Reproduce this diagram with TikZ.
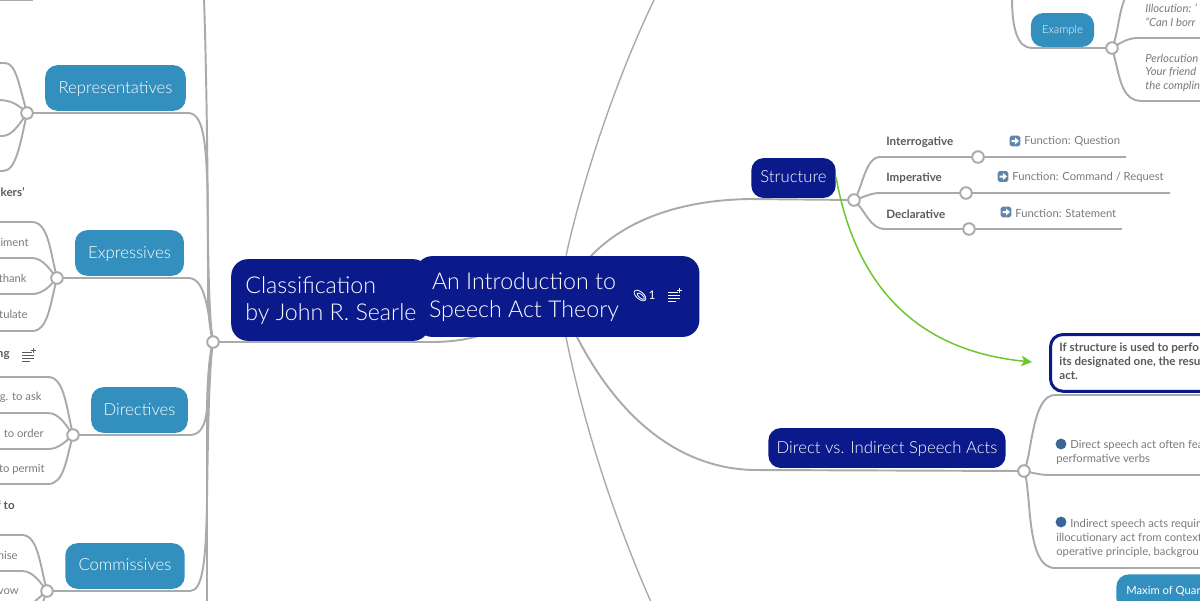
\documentclass[tikz,border=0pt]{standalone}
\usepackage{fontspec}
\setmainfont{Lato}
\newfontfamily\lightfont{Lato Light}
\usetikzlibrary{arrows.meta,backgrounds}
\definecolor{navy}{HTML}{0B1A8B}
\definecolor{topicblue}{HTML}{338FBD}
\definecolor{branchgray}{HTML}{A9ABAA}
\definecolor{bodygray}{HTML}{7A7A7A}
\definecolor{boldgray}{HTML}{5A5A5A}
\definecolor{bulletblue}{HTML}{3A6595}
\definecolor{fngray}{HTML}{5F87AE}
\definecolor{linkgreen}{HTML}{6CC62E}
\tikzset{
	branch/.style={draw=branchgray,line width=1.1pt},
	junct/.style={circle,draw=branchgray,fill=white,line width=1.1pt,inner sep=0pt,minimum size=6.6pt},
	navybox/.style={rectangle,rounded corners=7pt,fill=navy,text=white,inner sep=0pt,text height=5.7pt,text depth=0pt},
	bluebox/.style={rectangle,rounded corners=7pt,fill=topicblue,text=white,inner sep=0pt,text height=5.7pt,text depth=0pt},
	rootbox/.style={rectangle,rounded corners=9.5pt,fill=navy,inner sep=0pt},
	toptext/.style={text=white,font=\lightfont\fontsize{13.2}{15.6}\selectfont,inner sep=0pt},
	boxtext/.style={font=\lightfont\fontsize{9.5}{11}\selectfont},
	body/.style={text=bodygray,font=\fontsize{6.4}{8}\selectfont,inner sep=0pt},
	bodyl/.style={body,anchor=west},
	bodyr/.style={body,anchor=east},
	slant/.style={bodyl,font=\fontsize{6.4}{8}\selectfont\itshape},
	strong/.style={text=boldgray,font=\fontsize{6.6}{8}\selectfont\bfseries,inner sep=0pt},
	strongl/.style={strong,anchor=west},
	strongr/.style={strong,anchor=east},
	fnbox/.style={rectangle,rounded corners=1pt,fill=fngray,inner sep=0pt,minimum size=6pt},
	bullet/.style={circle,fill=bulletblue,inner sep=0pt,minimum size=6.2pt}
}
\newcommand{\noteicon}[3]{%
	\draw[#3,line width=.55pt] (#1-7,#2-3) -- (#1+3,#2-3) (#1-7,#2) -- (#1+5,#2) (#1-7,#2+3) -- (#1+5,#2+3) (#1-7,#2+6) -- (#1+1,#2+6);
	\draw[#3,line width=.55pt] (#1+4,#2-7) -- (#1+4,#2-2) (#1+1.5,#2-4.5) -- (#1+6.5,#2-4.5);
}
\newcommand{\fnarrow}[2]{%
	\fill[white] (#1-3.5,#2-1) -- (#1,#2-1) -- (#1,#2-3.5) -- (#1+4,#2) -- (#1,#2+3.5) -- (#1,#2+1) -- (#1-3.5,#2+1) -- cycle;
}
\begin{document}
\begin{tikzpicture}[x=0.02cm,y=-0.02cm]
	\useasboundingbox (0,0) rectangle (1200,600);

	\node[rootbox,minimum width=113pt,minimum height=46.5pt] (classif) at (330.5,300) {};
	\node[rootbox,minimum width=161.5pt,minimum height=46pt] (root) at (557.5,296.5) {};
	\node[toptext,align=left,anchor=west] (classift) at (245,300.5) {Classification\\by John R. Searle};
	\node[toptext,align=center] (roott) at (524,297) {An Introduction to\\Speech Act Theory};
	\draw[white,line width=.45pt,rotate around={-40:(640,295.5)}] (640,295.5) ellipse (7 and 3.6) (641,295.5) ellipse (4.5 and 1.8);
	\node[text=white,font=\fontsize{6.8}{8}\selectfont,inner sep=0pt] (attach) at (652,295.5) {1};
	\noteicon{675}{295}{white}

	\node[navybox,boxtext,text height=4.6pt,minimum width=48pt,minimum height=22.7pt] (struct) at (793.5,178) {Structure};
	\node[navybox,boxtext,minimum width=135pt,minimum height=22.7pt] (direct) at (887,448) {Direct vs. Indirect Speech Acts};
	\node[bluebox,font=\lightfont\fontsize{6.4}{8}\selectfont,text height=4.3pt,minimum width=36pt,minimum height=19.3pt] (example) at (1062.5,30) {Example};
	\node[bluebox,anchor=north west,minimum width=60pt,minimum height=20.5pt] (quant) at (1116,574) {};
	\node[bodyl,text=white] (quantt) at (1126,591) {Maxim of Quar};

	\node[bluebox,boxtext,minimum width=80pt,minimum height=26pt] (repr) at (115.5,88) {Representatives};
	\node[bluebox,boxtext,minimum width=62pt,minimum height=26pt] (expr) at (129.5,253) {Expressives};
	\node[bluebox,boxtext,minimum width=55pt,minimum height=26pt] (dirv) at (139.5,410) {Directives};
	\node[bluebox,boxtext,text height=5.2pt,minimum width=68pt,minimum height=26pt] (comm) at (125,566) {Commissives};

	\node[rectangle,rounded corners=7pt,draw=navy,line width=1.7pt,fill=white,anchor=north west,outer sep=0pt,minimum width=95pt,minimum height=32.3pt] (callout) at (1050.5,334.5) {};
	\node[strongl] (c1) at (1059,348) {If structure is used to perfo};
	\node[strongl] (c2) at (1059,362) {its designated one, the resu};
	\node[strongl] (c3) at (1059,376) {act.};

	\node[junct] (jclass) at (213,342) {};
	\node[junct] (jrepr) at (27,113) {};
	\node[junct] (jexpr) at (57,278) {};
	\node[junct] (jdirv) at (73,435) {};
	\node[junct] (jcomm) at (47,591) {};
	\node[junct] (jstruct) at (854,200) {};
	\node[junct] (jexample) at (1112,48) {};
	\node[junct] (jdirect) at (1024,471) {};
	\node[junct] (jq) at (978,157) {};
	\node[junct] (ji) at (966,193) {};
	\node[junct] (js) at (969,229) {};

	\coordinate (trunktop) at (204,-2);
	\coordinate (trunkbot) at (207,602);
	\coordinate (rootup) at (655,-2);
	\coordinate (rootdown) at (651,602);
	\coordinate (exup) at (1012,-2);
	\coordinate (exstem) at (1125,-2);
	\coordinate (exmid) at (1202,38);
	\coordinate (exlow) at (1202,101);
	\coordinate (qend) at (1126,157);
	\coordinate (iend) at (1170,193);
	\coordinate (send) at (1122,229);
	\coordinate (d1) at (1202,395);
	\coordinate (d2) at (1202,475);
	\coordinate (d3) at (1202,568);
	\coordinate (linkend) at (1032,362);

	\begin{pgfonlayer}{background}
		\draw[branch] (jclass.center) -- (430,342) .. controls (450,342) and (465,340) .. (482,335);
		\draw[branch] (trunktop) .. controls (207,90) and (208,200) .. (208,290) .. controls (208,315) and (210,330) .. (jclass.center);
		\draw[branch] (trunkbot) -- (207,420) .. controls (207,385) and (209,355) .. (jclass.center);
		\draw[branch] (jrepr.center) -- (188,113) .. controls (203,113) and (206,140) .. (207.5,190) .. controls (208,260) and (209,320) .. (jclass.center);
		\draw[branch] (jexpr.center) -- (188,278) .. controls (203,278) and (207,300) .. (jclass.center);
		\draw[branch] (jdirv.center) -- (190,435) .. controls (203,435) and (207,420) .. (207.5,400) .. controls (208,380) and (210,355) .. (jclass.center);
		\draw[branch] (jcomm.center) -- (190,591) .. controls (203,591) and (206,560) .. (207,500) .. controls (208,430) and (209,370) .. (jclass.center);

		\draw[branch] (-2,63) -- (5,63) .. controls (16,63) and (19,85) .. (jrepr.center);
		\draw[branch] (-2,100) .. controls (10,100) and (18,104) .. (jrepr.center);
		\draw[branch] (-2,136) -- (2,136) .. controls (12,136) and (19,125) .. (jrepr.center);
		\draw[branch] (-2,171) -- (3,171) .. controls (16,171) and (20,145) .. (jrepr.center);
		\draw[branch] (-2,222) -- (32,222) .. controls (48,222) and (50,250) .. (jexpr.center);
		\draw[branch] (-2,258) -- (32,258) .. controls (43,258) and (50,270) .. (jexpr.center);
		\draw[branch] (-2,294) -- (32,294) .. controls (43,294) and (50,286) .. (jexpr.center);
		\draw[branch] (-2,331) -- (32,331) .. controls (48,331) and (50,305) .. (jexpr.center);
		\draw[branch] (-2,377) -- (48,377) .. controls (64,377) and (66,405) .. (jdirv.center);
		\draw[branch] (-2,413) -- (48,413) .. controls (59,413) and (66,425) .. (jdirv.center);
		\draw[branch] (-2,449) -- (48,449) .. controls (59,449) and (66,441) .. (jdirv.center);
		\draw[branch] (-2,484) -- (48,484) .. controls (64,484) and (66,460) .. (jdirv.center);
		\draw[branch] (-2,535) -- (22,535) .. controls (38,535) and (40,565) .. (jcomm.center);
		\draw[branch] (-2,571) -- (22,571) .. controls (33,571) and (40,582) .. (jcomm.center);
		\draw[branch] (jcomm.center) -- (34,602);
		\draw[branch] (jcomm.center) -- (43,602);
		\draw[branch,line width=.7pt] (-2,.5) -- (33,.5);

		\draw[branch,line width=.8pt] (root.north) ++(8.5,0) coordinate (ru) (ru) .. controls (585,170) and (620,70) .. (rootup);
		\draw[branch] (590,257) .. controls (625,220) and (680,200) .. (750,199) -- (jstruct.center);
		\draw[branch,line width=.8pt] (566,337) .. controls (585,430) and (615,520) .. (rootdown);
		\draw[branch] (577,337) .. controls (625,430) and (690,470) .. (757,470) -- (jdirect.center);

		\draw[branch] (jstruct.center) .. controls (862,190) and (865,157) .. (880,157) -- (qend);
		\draw[branch] (jstruct.center) .. controls (865,197) and (870,193) .. (880,193) -- (iend);
		\draw[branch] (jstruct.center) .. controls (865,210) and (870,229) .. (885,229) -- (send);

		\draw[branch] (exup) .. controls (1012,30) and (1018,48) .. (1032,48) -- (jexample.center);
		\draw[branch] (jexample.center) .. controls (1118,35) and (1118,15) .. (exstem);
		\draw[branch] (jexample.center) .. controls (1122,42) and (1128,38) .. (1138,38) -- (exmid);
		\draw[branch] (jexample.center) .. controls (1120,75) and (1120,101) .. (1142,101) -- (exlow);

		\draw[branch] (jdirect.center) .. controls (1032,455) and (1032,395) .. (1055,395) -- (d1);
		\draw[branch] (jdirect.center) .. controls (1034,473) and (1040,475) .. (1050,475) -- (d2);
		\draw[branch] (jdirect.center) .. controls (1032,490) and (1025,568) .. (1055,568) -- (d3);
	\end{pgfonlayer}

	\draw[linkgreen,line width=.85pt,-{Stealth[length=6pt,width=6pt,inset=1.5pt]}] (struct.east) ++(0,-1) coordinate (sl) (sl) .. controls (858,300) and (930,352) .. (linkend);

	\node[strongl] (interrog) at (886,142) {Interrogative};
	\node[strongl] (imper) at (886,178) {Imperative};
	\node[strongl] (declar) at (886,214) {Declarative};
	\node[fnbox] (fn1) at (1015,141) {};
	\fnarrow{1015}{141}
	\node[bodyl] (fn1t) at (1024,141.5) {Function: Question};
	\node[fnbox] (fn2) at (1003,176.5) {};
	\fnarrow{1003}{176.5}
	\node[bodyl] (fn2t) at (1012,177.5) {Function: Command / Request};
	\node[fnbox] (fn3) at (1006,212) {};
	\fnarrow{1006}{212}
	\node[bodyl] (fn3t) at (1015,213.5) {Function: Statement};

	\node[slant] (il1) at (1145,8.5) {Illocution: ‘};
	\node[slant] (il2) at (1145,22.5) {"Can I borr};
	\node[slant] (pl1) at (1145,58.5) {Perlocution};
	\node[slant] (pl2) at (1145,72.5) {Your friend};
	\node[slant] (pl3) at (1145,86.5) {the complin};

	\node[bullet] (b1) at (1061,444) {};
	\node[bodyl] (d1a) at (1070,445.5) {Direct speech act often fea};
	\node[bodyl] (d1b) at (1056,459.5) {performative verbs};
	\node[bullet] (b2) at (1061,522) {};
	\node[bodyl] (d2a) at (1070,524.5) {Indirect speech acts requir};
	\node[bodyl] (d2b) at (1056,538.5) {illocutionary act from context};
	\node[bodyl] (d2c) at (1056,552.5) {operative principle, backgrou};

	\node[strongr] (kers) at (25,192.5) {kers'};
	\node[bodyr] (liment) at (29,242.5) {liment};
	\node[bodyr] (thank) at (27,278.5) {thank};
	\node[bodyr] (tulate) at (28,314.5) {tulate};
	\node[strongr] (ngt) at (10,355.5) {ng};
	\noteicon{29}{355}{boldgray}
	\node[bodyr] (ask) at (42,397.5) {g. to ask};
	\node[bodyr] (order) at (44,433.5) {to order};
	\node[bodyr] (permit) at (45,469.5) {to permit};
	\node[strongr] (fto) at (15,505.5) {f to};
	\node[bodyr] (nise) at (18,555.5) {nise};
	\node[bodyr] (vow) at (19,591.5) {vow};
\end{tikzpicture}
\end{document}
